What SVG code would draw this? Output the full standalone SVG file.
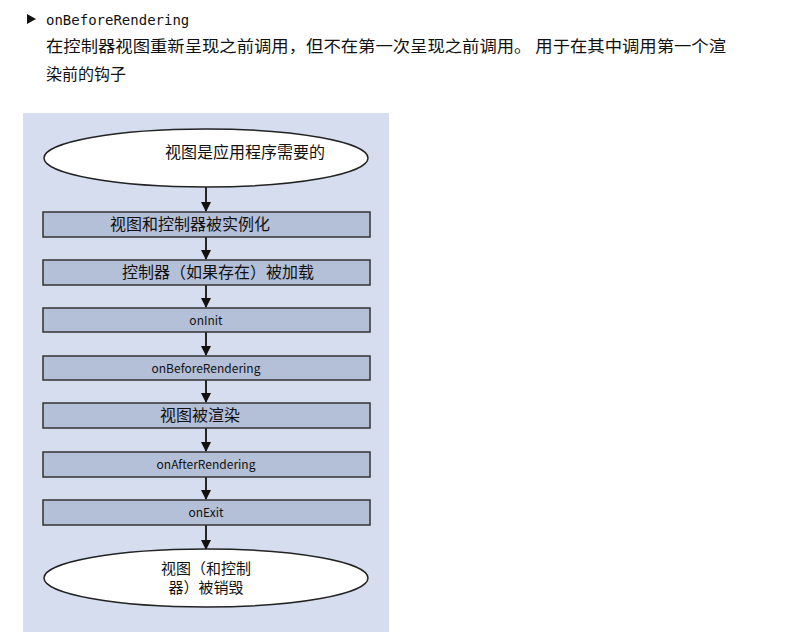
<svg xmlns="http://www.w3.org/2000/svg" width="792" height="638" viewBox="0 0 792 638">
<style>
.t{font-family:"Noto Sans CJK SC","Noto Sans",sans-serif;fill:#111}
.box{fill:#b4bfd8;stroke:#333;stroke-width:1.5}
.ell{fill:#fff;stroke:#222;stroke-width:1.5}
.c{stroke:#111;stroke-width:1.8;fill:none;marker-end:url(#a)}
</style>
<defs><marker id="a" markerWidth="10" markerHeight="10" refX="9" refY="5" orient="auto" markerUnits="userSpaceOnUse"><path d="M0,0 L10,5 L0,10 Z" fill="#111"/></marker></defs>
<rect width="792" height="638" fill="#fff"/>
<path d="M27,14 L36,19 L27,24 Z" fill="#111"/>
<text x="46" y="25" style="font-family:'DejaVu Sans Mono',monospace;font-size:14px;fill:#111">onBeforeRendering</text>
<text x="46" y="52" class="t" font-size="16" textLength="680" lengthAdjust="spacingAndGlyphs">在控制器视图重新呈现之前调用，但不在第一次呈现之前调用。 用于在其中调用第一个渲</text>
<text x="46" y="80" class="t" font-size="16">染前的钩子</text>
<rect x="23" y="113" width="366" height="519" fill="#d5ddef"/>
<g id="connectors">
<line class="c" x1="206" y1="187" x2="206" y2="211"/>
<line class="c" x1="206" y1="237" x2="206" y2="259"/>
<line class="c" x1="206" y1="285" x2="206" y2="307"/>
<line class="c" x1="206" y1="332" x2="206" y2="355"/>
<line class="c" x1="206" y1="380" x2="206" y2="402"/>
<line class="c" x1="206" y1="428" x2="206" y2="451"/>
<line class="c" x1="206" y1="477" x2="206" y2="499"/>
<line class="c" x1="206" y1="525" x2="206" y2="549"/>
</g>
<g id="n1"><ellipse class="ell" cx="206" cy="158" rx="162" ry="29"/><text x="245" y="158" class="t" font-size="16" text-anchor="middle">视图是应用程序需要的</text></g>
<g id="n2"><rect class="box" x="43" y="212" width="327" height="25"/><text x="190" y="230" class="t" font-size="16" text-anchor="middle">视图和控制器被实例化</text></g>
<g id="n3"><rect class="box" x="43" y="260" width="327" height="25"/><text x="218" y="278" class="t" font-size="16" text-anchor="middle">控制器（如果存在）被加载</text></g>
<g id="n4"><rect class="box" x="43" y="308" width="327" height="24"/><text x="206" y="325" class="t" font-size="12" text-anchor="middle">onInit</text></g>
<g id="n5"><rect class="box" x="43" y="356" width="327" height="24"/><text x="206" y="373" class="t" font-size="12" text-anchor="middle">onBeforeRendering</text></g>
<g id="n6"><rect class="box" x="43" y="403" width="327" height="25"/><text x="200" y="421" class="t" font-size="16" text-anchor="middle">视图被渲染</text></g>
<g id="n7"><rect class="box" x="43" y="452" width="327" height="25"/><text x="206" y="469" class="t" font-size="12" text-anchor="middle">onAfterRendering</text></g>
<g id="n8"><rect class="box" x="43" y="500" width="327" height="25"/><text x="206" y="517" class="t" font-size="12" text-anchor="middle">onExit</text></g>
<g id="n9"><ellipse class="ell" cx="206" cy="578" rx="162" ry="29"/><text class="t" font-size="15" text-anchor="middle"><tspan x="206" y="574">视图（和控制</tspan><tspan x="206" y="593">器）被销毁</tspan></text></g>
</svg>
